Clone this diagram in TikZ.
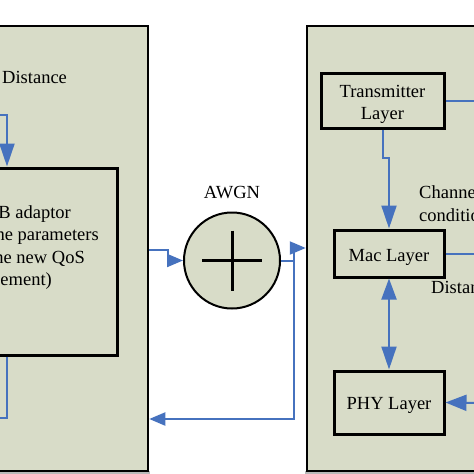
\documentclass[tikz,border=0pt]{standalone}
\usepackage{fontspec}
\setmainfont{Liberation Serif}
\usetikzlibrary{arrows.meta}
\definecolor{panelfill}{RGB}{216,220,200}
\definecolor{flowblue}{RGB}{70,114,190}
\begin{document}
\begin{tikzpicture}[x=1pt,y=-1pt,
  panel/.style={draw=black,line width=2.5pt,fill=panelfill,inner sep=0pt},
  layerbox/.style={draw=black,line width=3pt,fill=panelfill,inner sep=0pt},
  txt/.style={font=\fontsize{18.5}{22}\selectfont,inner sep=0pt,align=center},
  flow/.style={draw=flowblue,line width=2pt},
  varr/.style={flow,-{Triangle[length=23pt,width=15pt]}},
  harr/.style={flow,-{Triangle[length=16pt,width=13pt]}},
]
\useasboundingbox (0,0) rectangle (474,474);
\clip (0,0) rectangle (474,474);
\fill[gray!55] (0,471) rectangle (150,474);
\fill[gray!55] (305,471) rectangle (474,474);
% panels
\node[panel,minimum width=350pt,minimum height=445pt] (lpanel) at (-27,248.5) {};
\node[panel,minimum width=393pt,minimum height=445pt] (rpanel) at (503.5,248.5) {};
% left inner box
\node[layerbox,minimum width=267pt,minimum height=187pt] (lbox) at (-16.5,261.5) {};
\node[txt,anchor=base east] (l1) at (71,218) {B adaptor};
\node[txt,anchor=base east] (l2) at (99,240.5) {the parameters};
\node[txt,anchor=base east] (l3) at (85,263) {the new QoS};
\node[txt,anchor=base east] (l4) at (52,285.5) {agreement)};
\node[txt,anchor=base west] (ldist) at (2,83) {Distance};
% right layers
\node[layerbox,minimum width=123pt,minimum height=55pt] (trans) at (382.5,100.5) {};
\node[txt] (transtxt) at ([yshift=-3.5pt]trans.center) {Transmitter\\Layer};
\node[layerbox,minimum width=110pt,minimum height=47pt] (mac) at (389,253.5) {};
\node[txt] (mactxt) at ([yshift=-3.5pt]mac.center) {Mac Layer};
\node[layerbox,minimum width=110pt,minimum height=63pt] (phy) at (389,402.5) {};
\node[txt] (phytxt) at ([yshift=-3pt]phy.center) {PHY Layer};
\node[txt,anchor=base west] (ch1) at (419,198) {Channel};
\node[txt,anchor=base west] (ch2) at (419,221) {condition};
\node[txt,anchor=base west] (rdist) at (431,293) {Distance};
% AWGN
\node[draw=black,line width=2pt,fill=panelfill,circle,minimum size=96pt,inner sep=0pt] (awgn) at (232,260.5) {};
\draw[line width=3pt] (awgn.center) ++(-30,0) -- ++(60,0);
\draw[line width=3pt] (awgn.center) ++(0,-30) -- ++(0,60);
\node[txt,anchor=base] (awgnlabel) at (232,198) {AWGN};
% left connectors
\coordinate (ltopin) at (-5,115);
\coordinate (lx) at (7,0);
\draw[varr] (ltopin) -| (lx |- lbox.north);
\coordinate (lbotout) at (-5,418);
\draw[flow] (lx |- lbox.south) |- (lbotout);
% to AWGN
\coordinate (ljog) at (168,250);
\draw[harr] (lpanel.east |- ljog) -- (ljog) |- (awgn.west);
% from AWGN
\coordinate (junc) at (294,260.5);
\coordinate (upr) at (294,248);
\coordinate (dnl) at (294,419);
\draw[flow] (awgn.east) -- (junc);
\draw[harr] (junc) -- (upr) -- (rpanel.west |- upr);
\draw[harr] (junc) -- (dnl) -- (lpanel.east |- dnl);
% right connectors
\coordinate (tjog) at (0,158);
\draw[varr] (trans.south) -- (trans.south |- tjog) -| (mac.north);
\coordinate (trout) at (480,100.5);
\draw[flow] (trans.east) -- (trout);
\coordinate (macout) at (480,253.5);
\draw[flow] (mac.east) -- (macout);
\draw[flow,{Triangle[length=21pt,width=15pt]}-{Triangle[length=23pt,width=15pt]}] (mac.south) -- (phy.north);
\coordinate (phyin) at (480,403);
\draw[flow,-{Triangle[length=21pt,width=16pt]}] (phyin) -- (phy.east);
\end{tikzpicture}
\end{document}
